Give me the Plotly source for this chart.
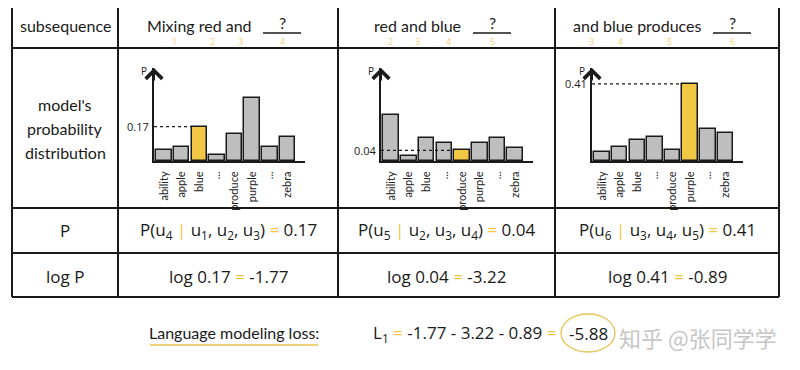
import plotly.graph_objects as go

# ---------------- data ----------------
words = ["ability", "apple", "blue", "...", "produce", "purple", "...", "zebra"]
p_chart1 = [0.053, 0.068, 0.17, 0.028, 0.134, 0.31, 0.068, 0.12]
p_chart2 = [0.171, 0.020, 0.087, 0.066, 0.04, 0.066, 0.087, 0.049]
p_chart3 = [0.048, 0.076, 0.112, 0.129, 0.059, 0.41, 0.172, 0.149]
target_idx = [2, 4, 5]
target_p = [0.17, 0.04, 0.41]
log_p = [-1.77, -3.22, -0.89]
loss = -5.88
phrases = ["Mixing red and", "red and blue", "and blue produces"]
positions = [[1, 2, 3, 4], [2, 3, 4, 5], [3, 4, 5, 6]]
row_labels = ["subsequence", "model's", "probability", "distribution", "P", "log P"]
loss_label = "Language modeling loss:"
watermark = "知乎 @张同学学"

# ---------------- styles / layout ----------------
OFF = 8                     # page body margin
W, H = 800 - OFF, 370 - OFF
HAND = "Lato, 'Noto Sans', sans-serif"
SANS = "'Open Sans', 'Noto Sans', sans-serif"
INK = "#1a1a1a"
YEL = "#F2C744"
YEL_T = "#F0D27A"
GRAY = "#BEBEBE"

def X(px):
    return (px - OFF) / W

def Y(py):
    return 1 - (py - OFF) / H

fig = go.Figure()
all_p = [p_chart1, p_chart2, p_chart3]
dom_x = [(154, 305), (381, 533), (592, 743)]
y_top, y_base = 68, 161
ymax = [0.461, 0.348, 0.495]
xr = [-0.57, 8.0]

layout = {}
for k in range(3):
    sfx = "" if k == 0 else str(k + 1)
    vals = all_p[k]
    colors = [YEL if i == target_idx[k] else GRAY for i in range(len(vals))]
    fig.add_trace(go.Bar(
        x=list(range(len(vals))), y=vals, width=0.88,
        marker=dict(color=colors, line=dict(color=INK, width=1.5)),
        xaxis="x" + sfx, yaxis="y" + sfx, showlegend=False, hoverinfo="skip"))
    layout["xaxis" + sfx] = dict(
        domain=[X(dom_x[k][0]), X(dom_x[k][1])], range=xr,
        tickvals=list(range(len(words))), ticktext=words, tickangle=-90,
        showline=True, linecolor=INK, linewidth=2, ticks="", showgrid=False,
        zeroline=False, tickfont=dict(family=HAND, size=11, color="#222"),
        ticklabelstandoff=4,
        anchor="y" + sfx, fixedrange=True)
    layout["yaxis" + sfx] = dict(
        domain=[Y(y_base), Y(y_top)], range=[0, ymax[k]],
        showline=True, linecolor=INK, linewidth=2, ticks="", showgrid=False,
        zeroline=False, showticklabels=False, anchor="x" + sfx, fixedrange=True)

fig.update_layout(**layout)

ann = []
shapes = []

def txt(x, y, s, size, font=HAND, color=INK, xanchor="center", yanchor="middle"):
    ann.append(dict(x=X(x), y=Y(y), xref="paper", yref="paper", text=s,
                    showarrow=False, xanchor=xanchor, yanchor=yanchor,
                    font=dict(family=font, size=size, color=color)))

def line(x0, y0, x1, y1, color=INK, width=2, dash="solid"):
    shapes.append(dict(type="line", xref="paper", yref="paper",
                       x0=X(x0), y0=Y(y0), x1=X(x1), y1=Y(y1),
                       line=dict(color=color, width=width, dash=dash)))

# chart decorations: arrow, P, dotted reference line and value label
for k in range(3):
    sfx = "" if k == 0 else str(k + 1)
    ann.append(dict(xref="x%s domain" % sfx, yref="y%s domain" % sfx, x=0, y=1,
                    ax=0, ay=14, text="", showarrow=True, arrowhead=4,
                    arrowsize=1.6, arrowwidth=2, arrowcolor=INK))
    ann.append(dict(xref="x%s domain" % sfx, yref="y%s domain" % sfx, x=0, y=1,
                    text="P", showarrow=False, xanchor="right", yanchor="middle",
                    xshift=-5, yshift=-3, font=dict(family=SANS, size=10, color=INK)))
    ti = target_idx[k]
    shapes.append(dict(type="line", xref="x" + sfx, yref="y" + sfx,
                       x0=xr[0], x1=ti - 0.44, y0=target_p[k], y1=target_p[k],
                       line=dict(color=INK, width=1.3, dash="dot"), layer="above"))
    ann.append(dict(xref="x%s domain" % sfx, yref="y" + sfx, x=0, y=target_p[k],
                    text="%.2f" % target_p[k], showarrow=False, xanchor="right",
                    yanchor="middle", xshift=-3,
                    font=dict(family=SANS, size=11, color=INK)))

# table grid
vx = [12, 118, 338, 555, 779]
hy = [7, 48, 208, 253, 297]
for x in vx:
    line(x, hy[0], x, hy[-1])
for y in hy:
    line(vx[0], y, vx[-1], y)

col_c = [(vx[i] + vx[i + 1]) / 2 for i in range(4)]

# header row
txt(col_c[0], 26, row_labels[0], 16)
phrase_right = [254, 463, 703]
q_x = [282, 492, 732]
num_x = [[174, 212, 241, 282], [390, 418, 448, 492], [591, 620, 669, 732]]
for k in range(3):
    txt(phrase_right[k], 25, phrases[k], 16, xanchor="right")
    txt(q_x[k], 23, "?", 16)
    line(q_x[k] - 19, 33, q_x[k] + 19, 33, width=1.5)
    for j in range(4):
        txt(num_x[k][j], 41, str(positions[k][j]), 9, font=SANS, color=YEL_T)

# row 2 label
txt(col_c[0], 105, row_labels[1], 16)
txt(col_c[0], 128, row_labels[2], 16)
txt(col_c[0], 152, row_labels[3], 16)

# P row and log P row
txt(col_c[0], 230, row_labels[4], 17, font=SANS)
txt(col_c[0], 276, row_labels[5], 17, font=SANS)
eq = "<span style='color:%s'>=</span>" % YEL
bar = "<span style='color:%s'>|</span>" % YEL
for k in range(3):
    t = positions[k][3]
    c = positions[k][:3]
    s = "P(u<sub>%d</sub> %s u<sub>%d</sub>, u<sub>%d</sub>, u<sub>%d</sub>) %s %.2f" % (
        t, bar, c[0], c[1], c[2], eq, target_p[k])
    txt(col_c[k + 1], 230, s, 17, font=SANS)
    s2 = "log %.2f %s %.2f" % (target_p[k], eq, log_p[k])
    txt(col_c[k + 1], 276, s2, 17, font=SANS)

# bottom loss line
txt(234, 332, loss_label, 16)
line(150, 345, 318, 345, color=YEL_T, width=2)
terms = "%.2f" % log_p[0] + "".join(" - %.2f" % abs(v) for v in log_p[1:])
txt(558, 333, "L<sub>1</sub> %s %s %s" % (eq, terms, eq), 17, font=SANS, xanchor="right")
txt(588, 333, "%.2f" % loss, 17, font=SANS)
shapes.append(dict(type="circle", xref="paper", yref="paper",
                   x0=X(561), x1=X(615), y0=Y(352), y1=Y(314),
                   line=dict(color="#E6C457", width=1.3)))
txt(698, 337, watermark, 22, font="'Noto Sans CJK SC', sans-serif", color="#c6c6c6")

fig.update_layout(
    width=W, height=H, margin=dict(l=0, r=0, t=0, b=0),
    paper_bgcolor="white", plot_bgcolor="rgba(0,0,0,0)",
    annotations=ann, shapes=shapes, showlegend=False, bargap=0)

fig.write_html("out.html")
